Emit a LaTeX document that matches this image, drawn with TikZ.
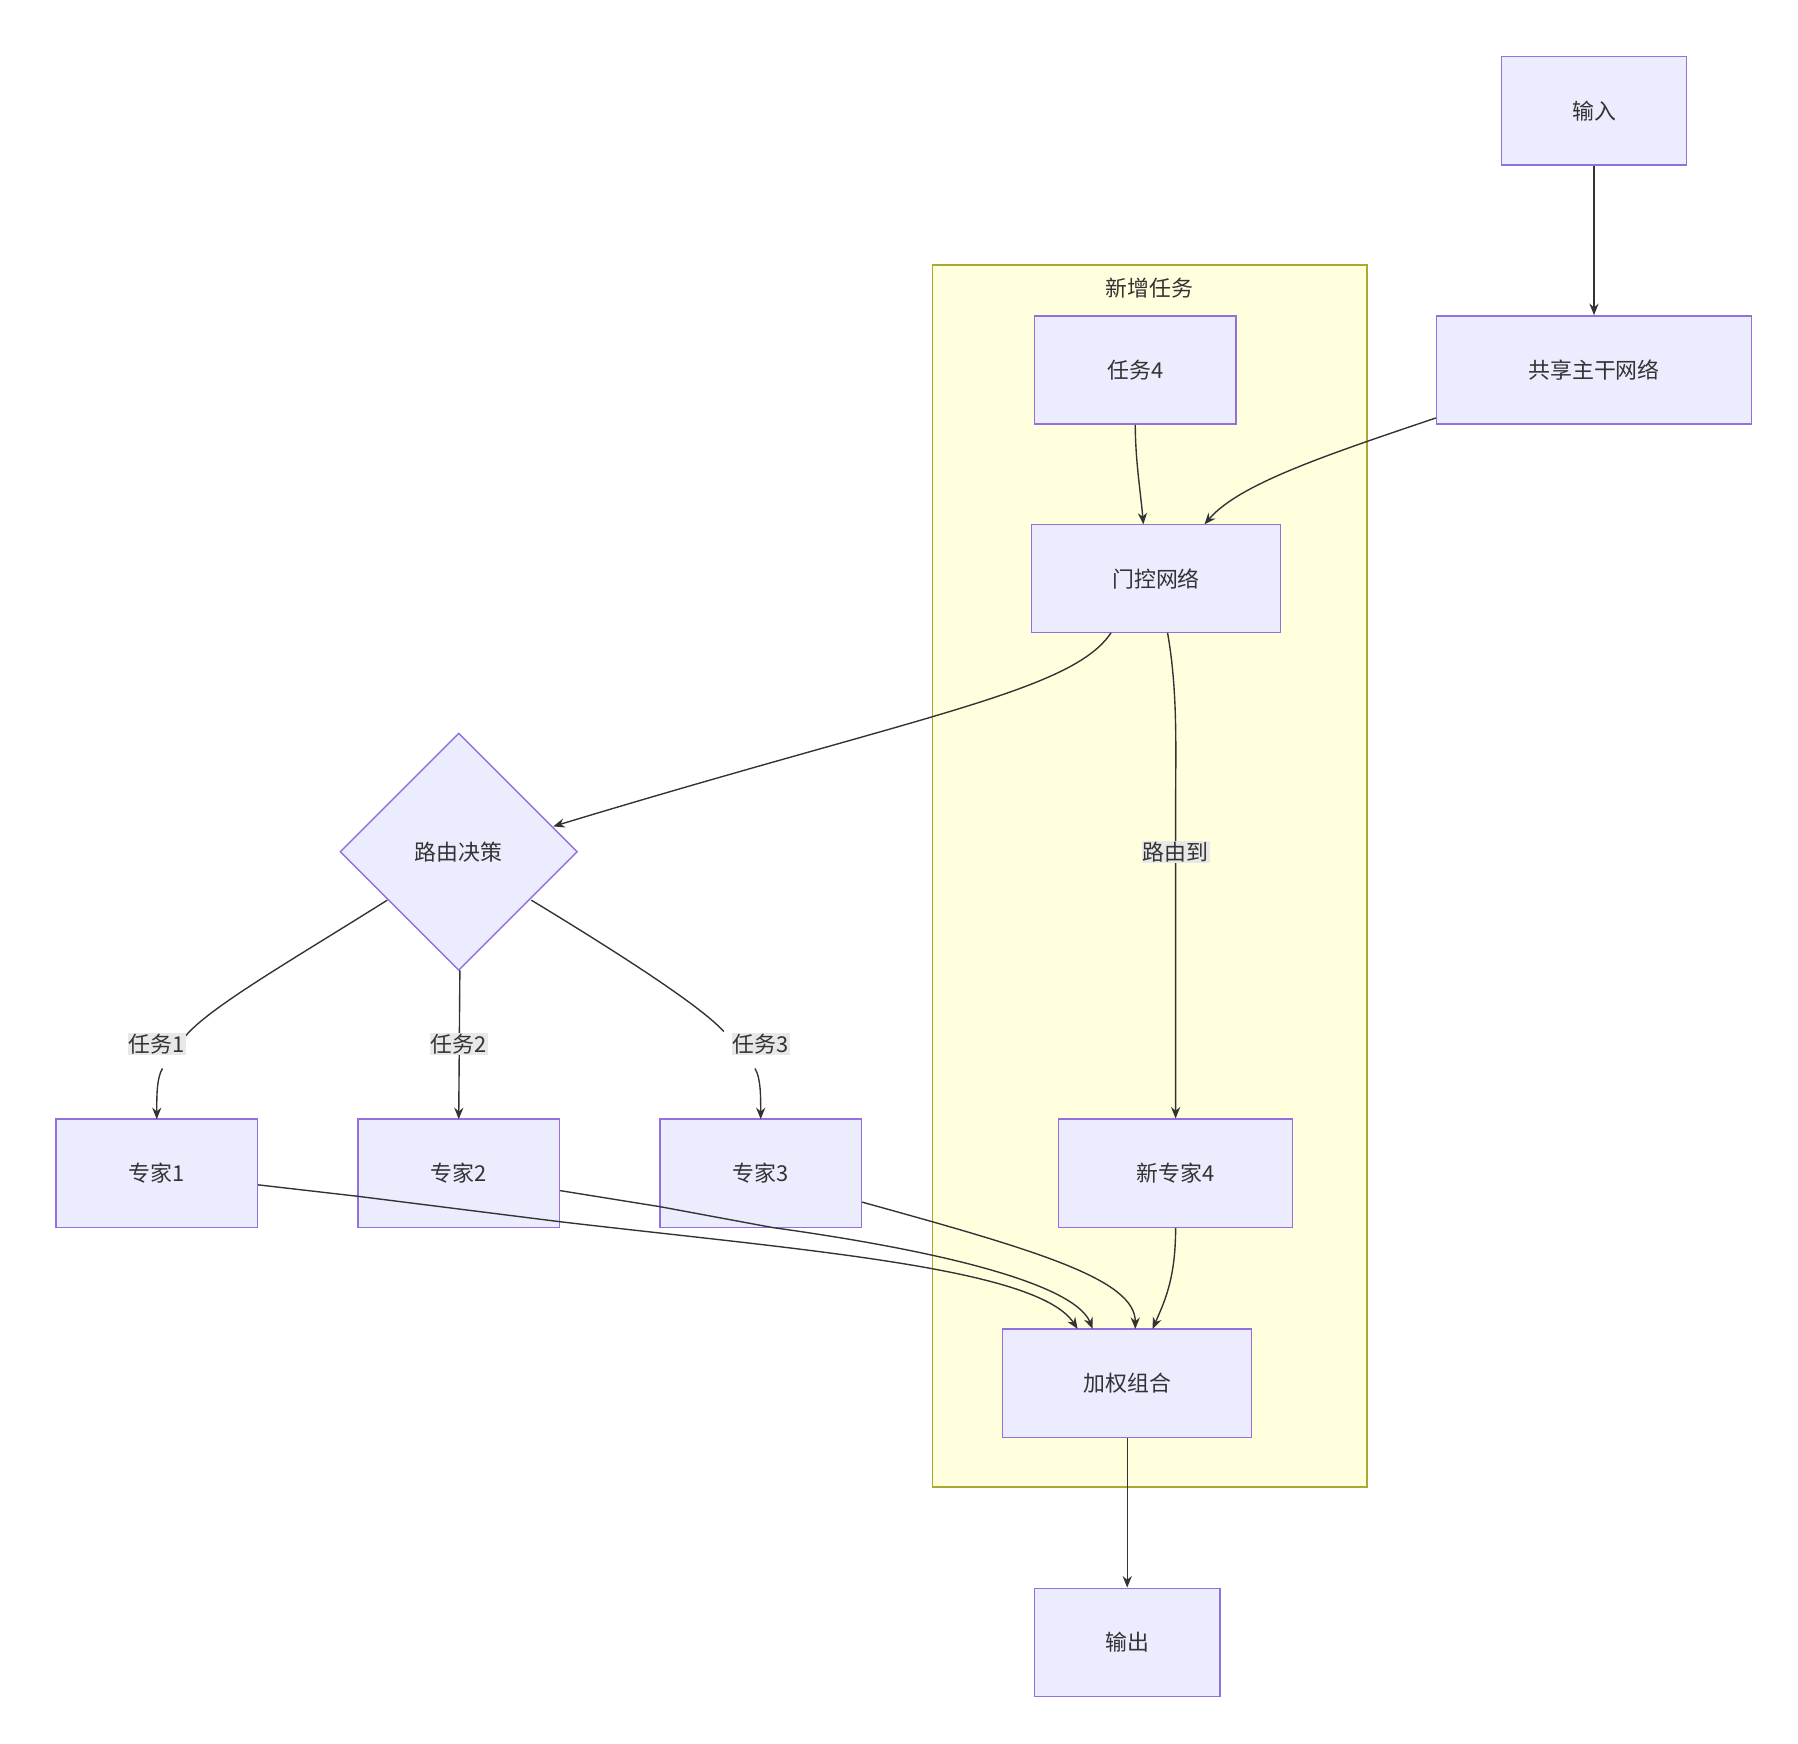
\documentclass[tikz,border=0pt]{standalone}
\usepackage{fontspec}
\setmainfont{Noto Sans CJK SC}
\usetikzlibrary{shapes.geometric,arrows.meta}
\definecolor{nfill}{HTML}{ECECFF}
\definecolor{nstroke}{HTML}{9370DB}
\definecolor{cfill}{HTML}{FFFFDE}
\definecolor{cstroke}{HTML}{AAAA33}
\definecolor{ln}{HTML}{333333}
\begin{document}
\begin{tikzpicture}[x=1pt,y=-1pt,
  box/.style={draw=nstroke,fill=nfill,line width=1.2pt,minimum height=94pt,text=ln,font=\fontsize{19}{22}\selectfont,inner sep=0pt},
  dia/.style={draw=nstroke,fill=nfill,line width=1.2pt,diamond,aspect=1,minimum size=206pt,inner sep=0pt,text=ln,font=\fontsize{19}{22}\selectfont},
  lab/.style={fill=black!9,text=ln,font=\fontsize{19}{22}\selectfont,inner sep=1pt},
  e/.style={draw=ln,line width=1.2pt,-{Stealth[length=10pt,width=8pt]}}]
\useasboundingbox (0,0) rectangle (1560,1513);
\draw[fill=cfill,draw=cstroke,line width=1.2pt] (809,230) rectangle (1186,1290);
\node[text=ln,font=\fontsize{19}{22}\selectfont] (ct) at (997,250) {新增任务};
% edges first
\coordinate (in) at (1383,96);
\node[box,minimum width=161pt] (input) at (1383,96) {输入};
\node[box,minimum width=273pt] (backbone) at (1383,321) {共享主干网络};
\node[box,minimum width=175pt] (t4) at (985,321) {任务4};
\node[box,minimum width=216pt] (gate) at (1003,502) {门控网络};
\node[dia] (route) at (398,739) {路由决策};
\node[box,minimum width=175pt] (e1) at (136,1018) {专家1};
\node[box,minimum width=175pt] (e2) at (398,1018) {专家2};
\node[box,minimum width=175pt] (e3) at (660,1018) {专家3};
\node[box,minimum width=203pt] (e4) at (1020,1018) {新专家4};
\node[box,minimum width=216pt] (comb) at (978,1200) {加权组合};
\node[box,minimum width=161pt] (out) at (978,1425) {输出};
\begin{scope}[on background layer/.try]
\end{scope}
\path[e] (input) -- (backbone);
\path[e] (t4.south) .. controls (985,400) and (990,430) .. (992,455);
\path[e] (backbone.south west) ++(0,-6) .. controls (1150,395) and (1075,420) .. (1045,455);
\path[e] (964,549) .. controls (930,600) and (800,620) .. (480,717);
\path[e] (1013,549) .. controls (1022,600) and (1020,650) .. (1020,700) -- (e4.north);
\node[lab] (l4) at (1020,739) {路由到};
\path[draw=ln,line width=1.2pt] (336,781) .. controls (250,835) and (180,875) .. (160,900);
\path[e] (141,927) .. controls (136,935) and (136,950) .. (136,971);
\node[lab] (l1) at (136,906) {任务1};
\path[e] (399,842) -- (398,971);
\node[lab] (l2) at (398,906) {任务2};
\path[draw=ln,line width=1.2pt] (461,781) .. controls (550,835) and (610,875) .. (628,895);
\path[e] (655,927) .. controls (660,935) and (660,950) .. (660,971);
\node[lab] (l3) at (660,906) {任务3};
\path[e] (e4.south) .. controls (1020,1110) and (1010,1130) .. (1000,1153);
\path[e] (comb) -- (out);
% expert to combine edges (behind boxes handled by redraw)
\path[e] (224,1028) -- (311,1038) -- (486,1060) .. controls (700,1085) and (900,1100) .. (935,1153);
\path[e] (486,1033) -- (573,1047) -- (670,1065) .. controls (850,1090) and (935,1120) .. (948,1153);
\path[e] (748,1043) .. controls (900,1085) and (985,1110) .. (985,1153);
\end{tikzpicture}
\end{document}
